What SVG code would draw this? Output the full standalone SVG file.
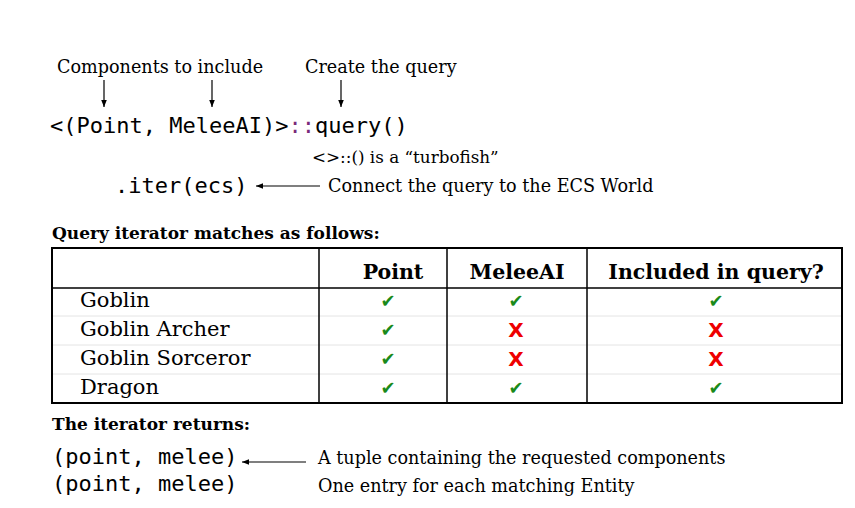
<svg xmlns="http://www.w3.org/2000/svg" width="855" height="508" viewBox="0 0 855 508">
<defs>
<marker id="ah" viewBox="0 0 10 10" refX="10" refY="5" markerWidth="7" markerHeight="7" markerUnits="userSpaceOnUse" orient="auto"><path d="M0,1 L10,5 L0,9 Z" fill="#000"/></marker>
<style>
.s{font-family:"DejaVu Serif","Liberation Serif",serif;font-size:17.6px;fill:#000}
.r{font-family:"DejaVu Serif","Liberation Serif",serif;font-size:21px;fill:#000}
.b{font-family:"DejaVu Serif","Liberation Serif",serif;font-size:20.5px;font-weight:bold;fill:#000}
.m{font-family:"DejaVu Sans Mono","Liberation Mono",monospace;font-size:22px;fill:#000}
.ok{font-family:"DejaVu Sans",sans-serif;font-size:18px;fill:#1a8a1a;text-anchor:middle;font-style:italic}
.no{font-family:"DejaVu Sans",sans-serif;font-size:20px;font-weight:bold;fill:#e00;text-anchor:middle}
.c{stroke:#000;stroke-width:1.2;fill:none}
</style>
</defs>
<g id="labels">
<text class="s" x="57" y="73">Components to include</text>
<text class="s" x="305" y="73">Create the query</text>
<text class="m" x="50" y="133">&lt;(Point, MeleeAI)&gt;<tspan fill="#7a2a7a">::</tspan>query()</text>
<text class="s" x="312" y="163" style="font-size:16.8px">&lt;&gt;::() is a “turbofish”</text>
<text class="m" x="115" y="193">.iter(ecs)</text>
<text class="s" x="328" y="192">Connect the query to the ECS World</text>
<text class="b" x="52" y="239" style="font-size:17px">Query iterator matches as follows:</text>
<text class="b" x="52" y="430" style="font-size:17px">The iterator returns:</text>
<text class="m" x="52" y="464">(point, melee)</text>
<text class="m" x="52" y="491">(point, melee)</text>
<text class="s" x="318" y="464">A tuple containing the requested components</text>
<text class="s" x="318" y="492">One entry for each matching Entity</text>
</g>
<g id="connectors">
<line class="c" x1="104" y1="80" x2="104" y2="107" marker-end="url(#ah)"/>
<line class="c" x1="212" y1="80" x2="212" y2="107" marker-end="url(#ah)"/>
<line class="c" x1="341" y1="80" x2="341" y2="107" marker-end="url(#ah)"/>
<line class="c" x1="320" y1="186" x2="256" y2="186" marker-end="url(#ah)"/>
<line class="c" x1="306" y1="462" x2="242" y2="462" marker-end="url(#ah)"/>
</g>
<g id="table">
<g stroke="#e4e4e4" stroke-width="1"><line x1="52" y1="316" x2="842" y2="316"/><line x1="52" y1="345" x2="842" y2="345"/><line x1="52" y1="374" x2="842" y2="374"/></g>
<rect x="52" y="248" width="790" height="155" fill="none" stroke="#000" stroke-width="2"/>
<g stroke="#000" stroke-width="1.5"><line x1="52" y1="288" x2="842" y2="288"/><line x1="319" y1="248" x2="319" y2="403"/><line x1="447" y1="248" x2="447" y2="403"/><line x1="587" y1="248" x2="587" y2="403"/></g>
<text class="b" x="393" y="279" text-anchor="middle">Point</text>
<text class="b" x="517" y="279" text-anchor="middle">MeleeAI</text>
<text class="b" x="716" y="279" text-anchor="middle">Included in query?</text>
<text class="r" x="80" y="307">Goblin</text>
<text class="r" x="80" y="336">Goblin Archer</text>
<text class="r" x="80" y="365">Goblin Sorceror</text>
<text class="r" x="80" y="394">Dragon</text>
<text class="ok" x="388" y="307">✔</text><text class="ok" x="516" y="307">✔</text><text class="ok" x="716" y="307">✔</text>
<text class="ok" x="388" y="336">✔</text><text class="no" x="516" y="337">X</text><text class="no" x="716" y="337">X</text>
<text class="ok" x="388" y="365">✔</text><text class="no" x="516" y="366">X</text><text class="no" x="716" y="366">X</text>
<text class="ok" x="388" y="394">✔</text><text class="ok" x="516" y="394">✔</text><text class="ok" x="716" y="394">✔</text>
</g>
</svg>
